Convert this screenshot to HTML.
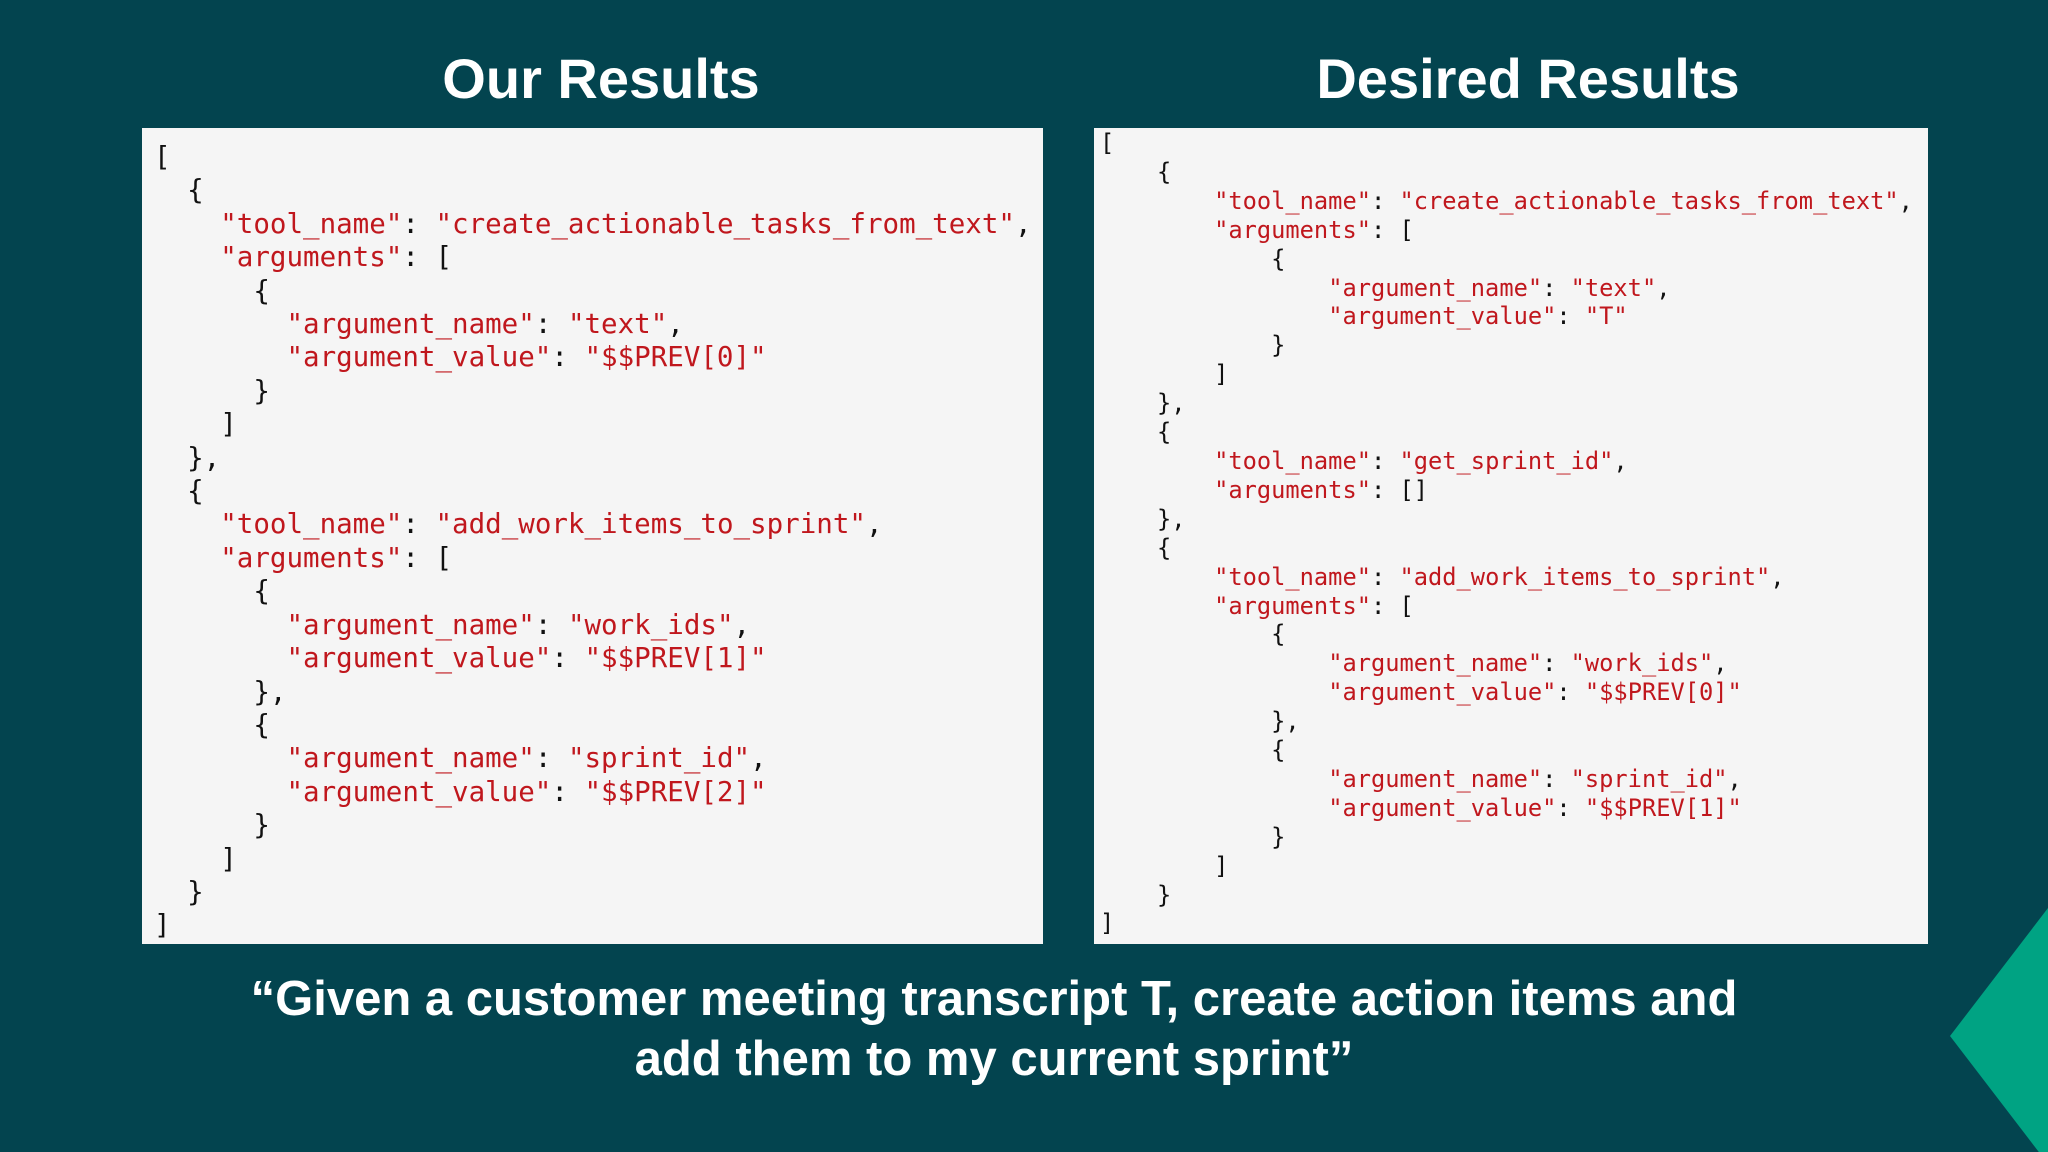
<!DOCTYPE html>
<html><head><meta charset="utf-8"><style>
html,body{margin:0;padding:0}
body{width:2048px;height:1152px;background:#03444f;position:relative;overflow:hidden;font-family:"Liberation Sans",sans-serif}
.t{position:absolute;color:#fff;font-weight:bold;text-align:center;white-space:nowrap}
.box{position:absolute;background:#f5f5f5}
pre{margin:0;position:absolute;font-family:"DejaVu Sans Mono","Liberation Mono",monospace;color:#111}
.s{color:#c0171d}
</style></head><body>
<div class="t" style="left:301px;width:600px;top:46px;font-size:56px;">Our Results</div>
<div class="t" style="left:1228px;width:600px;top:46px;font-size:56px;">Desired Results</div>
<div class="box" style="left:142px;top:128px;width:901px;height:816px"></div>
<div class="box" style="left:1094px;top:128px;width:834px;height:816px"></div>
<pre style="left:154px;top:141px;font-size:27.5px;line-height:33.4px">[
  {
    <span class="s">"tool_name"</span>: <span class="s">"create_actionable_tasks_from_text"</span>,
    <span class="s">"arguments"</span>: [
      {
        <span class="s">"argument_name"</span>: <span class="s">"text"</span>,
        <span class="s">"argument_value"</span>: <span class="s">"$$PREV[0]"</span>
      }
    ]
  },
  {
    <span class="s">"tool_name"</span>: <span class="s">"add_work_items_to_sprint"</span>,
    <span class="s">"arguments"</span>: [
      {
        <span class="s">"argument_name"</span>: <span class="s">"work_ids"</span>,
        <span class="s">"argument_value"</span>: <span class="s">"$$PREV[1]"</span>
      },
      {
        <span class="s">"argument_name"</span>: <span class="s">"sprint_id"</span>,
        <span class="s">"argument_value"</span>: <span class="s">"$$PREV[2]"</span>
      }
    ]
  }
]</pre>
<pre style="left:1100px;top:129px;font-size:23.7px;line-height:28.9px">[
    {
        <span class="s">"tool_name"</span>: <span class="s">"create_actionable_tasks_from_text"</span>,
        <span class="s">"arguments"</span>: [
            {
                <span class="s">"argument_name"</span>: <span class="s">"text"</span>,
                <span class="s">"argument_value"</span>: <span class="s">"T"</span>
            }
        ]
    },
    {
        <span class="s">"tool_name"</span>: <span class="s">"get_sprint_id"</span>,
        <span class="s">"arguments"</span>: []
    },
    {
        <span class="s">"tool_name"</span>: <span class="s">"add_work_items_to_sprint"</span>,
        <span class="s">"arguments"</span>: [
            {
                <span class="s">"argument_name"</span>: <span class="s">"work_ids"</span>,
                <span class="s">"argument_value"</span>: <span class="s">"$$PREV[0]"</span>
            },
            {
                <span class="s">"argument_name"</span>: <span class="s">"sprint_id"</span>,
                <span class="s">"argument_value"</span>: <span class="s">"$$PREV[1]"</span>
            }
        ]
    }
]</pre>
<div class="t" style="left:0;width:1988px;top:969px;font-size:49px;line-height:60px">“Given a customer meeting transcript T, create action items and<br>add them to my current sprint”</div>
<svg style="position:absolute;left:0;top:0" width="2048" height="1152"><polygon points="2048,908 1950,1036 2048,1164" fill="#00a383"/></svg>
</body></html>
